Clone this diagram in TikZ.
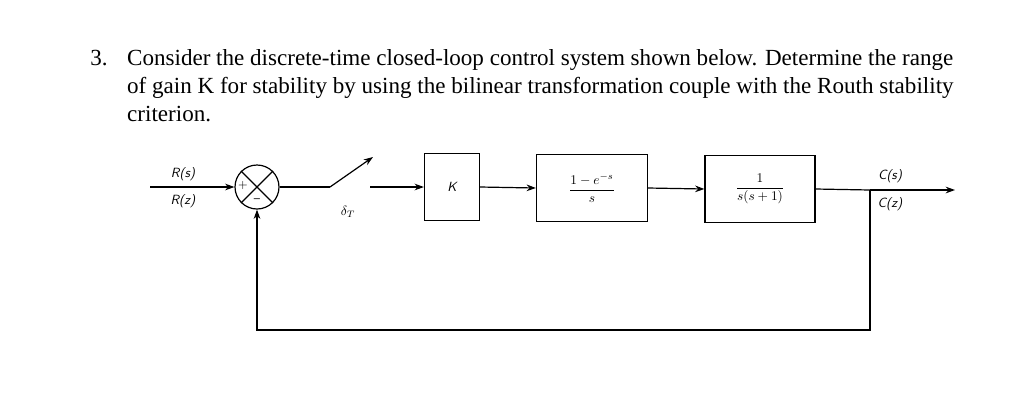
\documentclass[tikz,border=0pt]{standalone}
\usepackage{fontspec}
\setmainfont{Liberation Serif}
\usetikzlibrary{arrows.meta}
\begin{document}
\begin{tikzpicture}[x={(0.75pt,0)},y={(0,-0.75pt)},
  blk/.style={draw,line width=0.9pt,minimum width=#1*0.75pt,minimum height=67*0.75pt,font=\sffamily\itshape},
  lab/.style={font=\sffamily\itshape},
  sig/.style={line width=0.9pt,-{Stealth[length=7pt,width=5pt]}},
  ln/.style={line width=0.9pt}]
\useasboundingbox (0,0) rectangle (1024,405);
\node[anchor=north west,inner sep=0pt,font=\fontsize{17.3}{21}\selectfont] (q) at (90,49)
 {3.\hspace{0.85em}\parbox[t]{640pt}{\raggedright Consider the discrete-time closed-loop control system shown below. Determine the range\\ of gain K for stability by using the bilinear transformation couple with the Routh stability\\ criterion.}};
\node[draw,circle,line width=0.9pt,minimum size=44*0.75pt,inner sep=0pt] (sum) at (257,187) {};
\draw[ln] (sum.north west) -- (sum.south east) (sum.north east) -- (sum.south west);
\node[font=\sffamily\small] (pl) at (243,185) {+};
\node[font=\sffamily\small] (mi) at (257,201) {--};
\coordinate (in) at (150,187);
\draw[sig] (in) -- (sum.west);
\node[lab] (rs) at (183,174) {R(s)};
\node[lab] (rz) at (183,201) {R(z)};
\coordinate (sw0) at (330,187);
\coordinate (sw1) at (373,157);
\draw[ln] (sum.east) -- (sw0);
\draw[sig] (sw0) -- (sw1);
\node[lab] (dt) at (348,212) {$\delta_T$};
\node[blk=55] (k) at (452,187) {K};
\node[blk=111] (zoh) at (592,188) {$\displaystyle\frac{1-e^{-s}}{s}$};
\node[blk=110] (pl2) at (760,189) {$\displaystyle\frac{1}{s(s+1)}$};
\coordinate (sw2) at (370,187);
\draw[sig] (sw2) -- (k.west);
\draw[sig] (k.east) -- (zoh.west);
\draw[sig] (zoh.east) -- (pl2.west);
\coordinate (br) at (870,190);
\coordinate (out) at (955,190);
\draw[ln] (pl2.east) -- (br);
\draw[sig] (br) -- (out);
\node[lab] (cs) at (890,176) {C(s)};
\node[lab] (cz) at (890,204) {C(z)};
\coordinate (b1) at (870,330);
\coordinate (b2) at (257,330);
\draw[sig] (br) -- (b1) -- (b2) -- (sum.south);
\end{tikzpicture}
\end{document}
